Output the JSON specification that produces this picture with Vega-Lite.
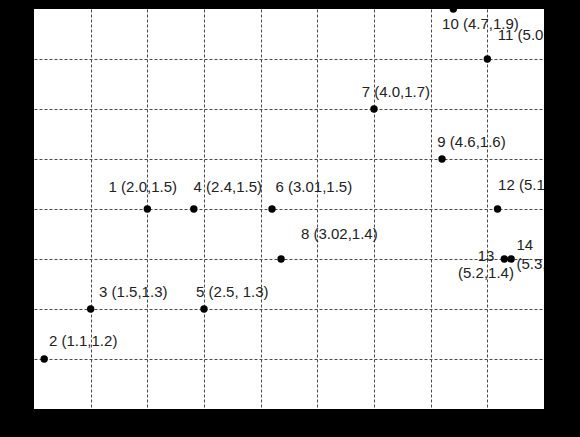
{
  "$schema": "https://vega.github.io/schema/vega-lite/v6.json",
  "width": 510,
  "height": 400,
  "autosize": {"type": "none"},
  "padding": {"left": 34, "top": 9, "right": 36, "bottom": 28},
  "background": "black",
  "view": {"fill": "white", "stroke": null},
  "config": {
    "axis": {
      "labels": false,
      "ticks": false,
      "domain": false,
      "title": null,
      "grid": true,
      "gridColor": "#4a4a4a",
      "gridDash": [3, 2],
      "gridWidth": 1,
      "gridOpacity": 1
    }
  },
  "data": {
    "values": [
      {"id": 1, "x": 2.0, "y": 1.5, "label": "1 (2.0,1.5)", "lx": 1.96, "ly": 1.544, "anchor": "center"},
      {"id": 2, "x": 1.09, "y": 1.2, "label": "2 (1.1,1.2)", "lx": 1.434, "ly": 1.236, "anchor": "center"},
      {"id": 3, "x": 1.5, "y": 1.3, "label": "3 (1.5,1.3)", "lx": 1.876, "ly": 1.334, "anchor": "center"},
      {"id": 4, "x": 2.41, "y": 1.5, "label": "4 (2.4,1.5)", "lx": 2.71, "ly": 1.544, "anchor": "center"},
      {"id": 5, "x": 2.5, "y": 1.3, "label": "5 (2.5, 1.3)", "lx": 2.75, "ly": 1.334, "anchor": "center"},
      {"id": 6, "x": 3.1, "y": 1.5, "label": "6 (3.01,1.5)", "lx": 3.469, "ly": 1.544, "anchor": "center"},
      {"id": 7, "x": 4.0, "y": 1.7, "label": "7 (4.0,1.7)", "lx": 4.193, "ly": 1.734, "anchor": "center"},
      {"id": 8, "x": 3.18, "y": 1.4, "label": "8 (3.02,1.4)", "lx": 3.694, "ly": 1.45, "anchor": "center"},
      {"id": 9, "x": 4.6, "y": 1.6, "label": "9 (4.6,1.6)", "lx": 4.86, "ly": 1.634, "anchor": "center"},
      {"id": 10, "x": 4.7, "y": 1.9, "label": "10 (4.7,1.9)", "lx": 4.939, "ly": 1.87, "anchor": "center"},
      {"id": 11, "x": 5.0, "y": 1.8, "label": "11 (5.0,1.8)", "lx": 5.426, "ly": 1.848, "anchor": "center"},
      {"id": 12, "x": 5.09, "y": 1.5, "label": "12 (5.1,1.5)", "lx": 5.433, "ly": 1.548, "anchor": "center"},
      {"id": 13, "x": 5.15, "y": 1.4, "label": "13\n(5.2,1.4)", "lx": 4.988, "ly": 1.406, "anchor": "center"},
      {"id": 14, "x": 5.21, "y": 1.4, "label": "14\n(5.3,1.4)", "lx": 5.257, "ly": 1.428, "anchor": "left"}
    ]
  },
  "layer": [
    {
      "mark": {"type": "circle", "color": "black", "opacity": 1, "size": 55, "clip": true},
      "encoding": {
        "x": {"field": "x", "type": "quantitative", "scale": {"domain": [1, 5.5], "nice": false, "zero": false}, "axis": {"values": [1.5, 2, 2.5, 3, 3.5, 4, 4.5, 5]}},
        "y": {"field": "y", "type": "quantitative", "scale": {"domain": [1.1, 1.9], "nice": false, "zero": false}, "axis": {"values": [1.2, 1.3, 1.4, 1.5, 1.6, 1.7, 1.8]}}
      }
    },
    {
      "transform": [{"filter": "datum.anchor == 'center'"}],
      "mark": {"type": "text", "align": "center", "baseline": "middle", "font": "Liberation Sans", "fontSize": 15, "color": "#222222", "lineBreak": "\n", "lineHeight": 17, "clip": true},
      "encoding": {
        "x": {"field": "lx", "type": "quantitative", "scale": {"domain": [1, 5.5], "nice": false, "zero": false}, "axis": {"values": [1.5, 2, 2.5, 3, 3.5, 4, 4.5, 5]}},
        "y": {"field": "ly", "type": "quantitative", "scale": {"domain": [1.1, 1.9], "nice": false, "zero": false}, "axis": {"values": [1.2, 1.3, 1.4, 1.5, 1.6, 1.7, 1.8]}},
        "text": {"field": "label"}
      }
    },
    {
      "transform": [{"filter": "datum.anchor == 'left'"}],
      "mark": {"type": "text", "align": "left", "baseline": "middle", "font": "Liberation Sans", "fontSize": 15, "color": "#222222", "lineBreak": "\n", "lineHeight": 19, "clip": true},
      "encoding": {
        "x": {"field": "lx", "type": "quantitative", "scale": {"domain": [1, 5.5], "nice": false, "zero": false}, "axis": {"values": [1.5, 2, 2.5, 3, 3.5, 4, 4.5, 5]}},
        "y": {"field": "ly", "type": "quantitative", "scale": {"domain": [1.1, 1.9], "nice": false, "zero": false}, "axis": {"values": [1.2, 1.3, 1.4, 1.5, 1.6, 1.7, 1.8]}},
        "text": {"field": "label"}
      }
    }
  ]
}
